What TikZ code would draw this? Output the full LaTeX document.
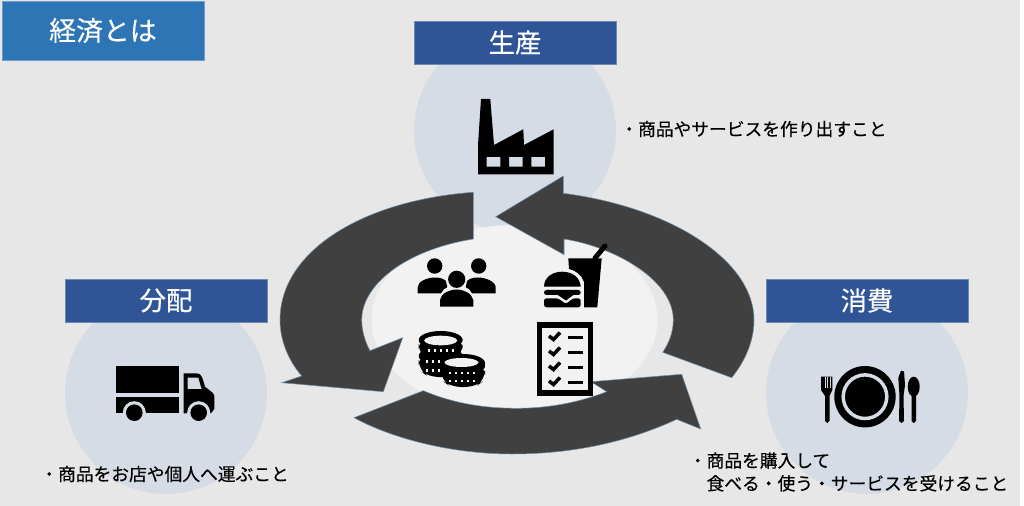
\documentclass[tikz,border=0pt]{standalone}
\usepackage{fontspec}
\newfontfamily\jpfont[FakeBold=0.35]{Noto Sans CJK JP}
\usetikzlibrary{positioning,calc,shapes.geometric}
\definecolor{pagegray}{HTML}{E7E7E7}
\definecolor{circleblue}{HTML}{D6DCE5}
\definecolor{headblue}{HTML}{2F5597}
\definecolor{titleblue}{HTML}{2E75B6}
\definecolor{loopgray}{HTML}{404040}
\definecolor{loopedge}{HTML}{6F8FA8}
\definecolor{innergray}{HTML}{F2F2F2}
\tikzset{
        every node/.style={font=\jpfont}, % All the text is Japanese
        stagecircle/.style={ % The pale discs behind the icons
            circle,
            fill=circleblue,
            minimum size=4.04cm},
        stagehead/.style={ % Blue headers of the three stages
            fill=headblue,
            draw=headblue!70!white,
            line width=.3pt,
            text=white,
            font=\jpfont\fontsize{15}{18}\selectfont,
            minimum width=4.04cm,
            minimum height=.86cm},
        note/.style={ % Explanations beside the discs
            anchor=west,
            inner sep=0pt,
            align=left,
            font=\jpfont\fontsize{10.1}{13}\selectfont},
        looparrow/.style={ % The three big arrows
            fill=loopgray,
            draw=loopedge,
            line width=.3pt,
            line join=miter}
        }

\begin{document}
\begin{tikzpicture}[x=.02cm,y=-.02cm]
    \useasboundingbox (0,0) rectangle (1024,506);
    \fill[white] (0,0) rectangle (1024,506);
    \fill[pagegray] (0,0) rectangle (1019.5,506);

    \node[stagecircle] (makedisc) at (515,131) {};
    \node[stagecircle] (sharedisc) at (166,393) {};
    \node[stagecircle] (usedisc) at (867,393) {};

    \node[fill=innergray, ellipse, minimum width=5.72cm, minimum height=3.8cm] (centre) at (514.5,320) {};

    \node[stagehead] (make) at (515,42.5) {生産};
    \node[stagehead] (share) at (166,300.5) {分配};
    \node[stagehead] (use) at (867,300.5) {消費};
    \node[fill=titleblue, draw=titleblue!70!white, line width=.3pt, text=white,
        font=\jpfont\fontsize{15.3}{18}\selectfont,
        minimum width=4.04cm, minimum height=1.18cm] (title) at (103,30.5) {経済とは};

    \node[note] (makenote) at (620,129) {・商品やサービスを作り出すこと};
    \node[note] (sharenote) at (40,474) {・商品をお店や個人へ運ぶこと};
    \node[note] (usenote) at (688.5,472) {・商品を購入して\\\hspace*{1em}食べる・使う・サービスを受けること};

    % big arrows
    \draw[looparrow] (473.3,192.3) .. controls (365,200) and (280,250) .. (280,320)
        .. controls (280,340) and (288,360) .. (301.7,376)
        -- (281.7,382.7) -- (383.3,391.7) -- (402.7,337.7) -- (370,350.7)
        .. controls (365,342) and (361.7,330) .. (361.7,320)
        .. controls (361.7,285) and (405,250) .. (473.3,239) -- cycle;
    \draw[looparrow] (731.7,377.7) .. controls (746,360) and (754,340) .. (754,320)
        .. controls (754,260) and (670,207) .. (563.3,193.3)
        -- (563.3,176) -- (495.7,216.7) -- (564,254.7) -- (564,239)
        .. controls (615,247) and (673.3,280) .. (673.3,320)
        .. controls (673.3,332) and (669,343) .. (662.7,352.3) -- cycle;
    \draw[looparrow] (423.3,390.7) -- (354,417.7)
        .. controls (395,440) and (455,454) .. (512,454)
        .. controls (575,454) and (630,441) .. (676.7,419.3)
        -- (700.7,429) -- (681.7,374.3) -- (591,381.7) -- (606.7,391.7)
        .. controls (580,402) and (550,408.3) .. (516.7,408.3)
        .. controls (480,408.3) and (450,402) .. (423.3,390.7) -- cycle;

    % factory
    \fill[even odd rule] (481,99) -- (490.3,99) -- (494,145) -- (523.3,129.3) -- (524,145)
        -- (553.7,129.3) -- (553.7,174.3) -- (478,174.3) -- (478,145) -- cycle
        (486.7,157) rectangle (500.3,166.7)
        (509,157) rectangle (522.7,166.7)
        (531.3,157) rectangle (545,166.7);

    % truck
    \fill (116.3,366) rectangle (179,393.3);
    \fill (116.3,397.3) rectangle (179,413.3);
    \fill[even odd rule] (183.7,373.3) -- (197,373.3) .. controls (202,373.3) and (203,380) .. (205,386.7)
        -- (213,393) -- (214.3,396) -- (214.3,409) -- (211,413.3) -- (183.7,413.3) -- cycle
        (187.7,377.7) -- (198.3,377.7) -- (201.7,389) -- (187.7,389) -- cycle;
    \fill[circleblue] (134.3,412.7) circle[radius=11.5] (198.7,412.7) circle[radius=11.5];
    \fill[circleblue] (120,413.5) rectangle (150,424) (185,413.5) rectangle (212,424);
    \fill (134.3,412.7) circle[radius=8.3] (198.7,412.7) circle[radius=8.3];

    % plate and cutlery
    \fill (865,396.7) circle[radius=30.7];
    \draw[circleblue, line width=.07cm] (865,396.7) circle[radius=21.8];
    \fill (821,376.7) -- (832.3,376.7) -- (832.3,390) -- (829.5,396) -- (829.5,421) -- (827.3,423) -- (825,421)
        -- (825,396) -- (821,390) -- cycle;
    \draw[circleblue, line width=.012cm] (824.8,376.7) -- (824.8,388) (827.3,376.7) -- (827.3,388) (829.8,376.7) -- (829.8,388);
    \fill (898.3,378) -- (901,370.7) -- (904,371.5) -- (905,385) -- (903.5,396) -- (904,421) -- (901.5,423) -- (899,421) -- (899.5,396) -- cycle;
    \fill (913.7,386.7) ellipse[x radius=6, y radius=10];
    \fill (911.5,390) -- (916,390) -- (916,421) -- (913.7,423) -- (911.5,421) -- cycle;

    % people
    \fill (434.7,266) circle[radius=7.7] (478.7,266) circle[radius=7.7] (456.7,279.3) circle[radius=8.6];
    \fill (417.7,293.3) -- (417.7,287) .. controls (418,281) and (428,277.5) .. (435,277.5)
        .. controls (440,277.5) and (444,279) .. (446,281) .. controls (446,286) and (450,287) .. (444,289)
        -- (441,293.3) -- cycle;
    \fill (495.7,293.3) -- (495.7,287) .. controls (495,281) and (485,277.5) .. (478,277.5)
        .. controls (473,277.5) and (469,279) .. (467,281) .. controls (467,286) and (463,287) .. (469,289)
        -- (472,293.3) -- cycle;
    \fill (440,306.7) -- (440,300) .. controls (441,293) and (450,289.5) .. (456.7,289.5)
        .. controls (463,289.5) and (472,293) .. (473.3,300) -- (473.3,306.7) -- cycle;

    % burger and drink
    \draw[line width=.1cm, line cap=round] (595,258) -- (605,246);
    \fill (568.3,258.3) -- (601.7,258.3) -- (597.3,307.3) -- (584,307.3) -- (584,282) .. controls (582,275) and (575,270) .. (569,269) -- cycle;
    \fill (544,286.7) .. controls (544,277) and (553,271.7) .. (562,271.7) .. controls (572,271.7) and (580,277) .. (580.7,286.7) -- cycle;
    \fill[rounded corners=.05cm] (544,290) rectangle (580.7,295);
    \fill[rounded corners=.05cm] (544,298.3) -- (558,298.3) -- (566,304) -- (573,298.3) -- (580.7,298.3) -- (580.7,307.3) -- (544,307.3) -- cycle;
    \fill (557,294.5) -- (566,300.5) -- (574,294.5) -- cycle;

    % coins
    \foreach \cx/\cy in {440.7/340, 440.7/356, 463/366} {
        \fill[rounded corners=.2cm] (\cx-22,\cy-1) -- (\cx-22,\cy+14) -- (\cx-12,\cy+21) -- (\cx+12,\cy+21) -- (\cx+22,\cy+14) -- (\cx+22,\cy-1) -- cycle;
        \fill (\cx,\cy) ellipse[x radius=22, y radius=9];
    }
    \fill[innergray] (440.7,340.5) ellipse[x radius=16.5, y radius=4.8];
    \fill (463,363) ellipse[x radius=22, y radius=9];
    \fill[innergray] (461.5,362.5) ellipse[x radius=17, y radius=4.5];
    \foreach \dx in {-13,-7,...,11} {
        \fill[innergray] (440.7+\dx,349.5) rectangle ++(2.5,2.5);
        \fill[innergray] (461.5+\dx,372) rectangle ++(2.5,2.5);
        \fill[innergray] (461.5+\dx,379.5) rectangle ++(2.5,2.5);
    }
    \foreach \dx in {-15,-9,-3} {
        \fill[innergray] (440.7+\dx,360.5) rectangle ++(2.5,2.5);
        \fill[innergray] (440.7+\dx,369.5) rectangle ++(2.5,2.5);
    }

    % checklist
    \draw[line width=.11cm, fill=innergray] (539.5,325) rectangle (590.5,393);
    \foreach \ly in {337.5,352.5,367.5,382.5} {
        \draw[line width=.07cm] (549,\ly-1.5) -- (553.5,\ly+2) -- (560,\ly-5);
        \draw[line width=.07cm] (567.5,\ly) -- (582.5,\ly);
    }
\end{tikzpicture}
\end{document}
